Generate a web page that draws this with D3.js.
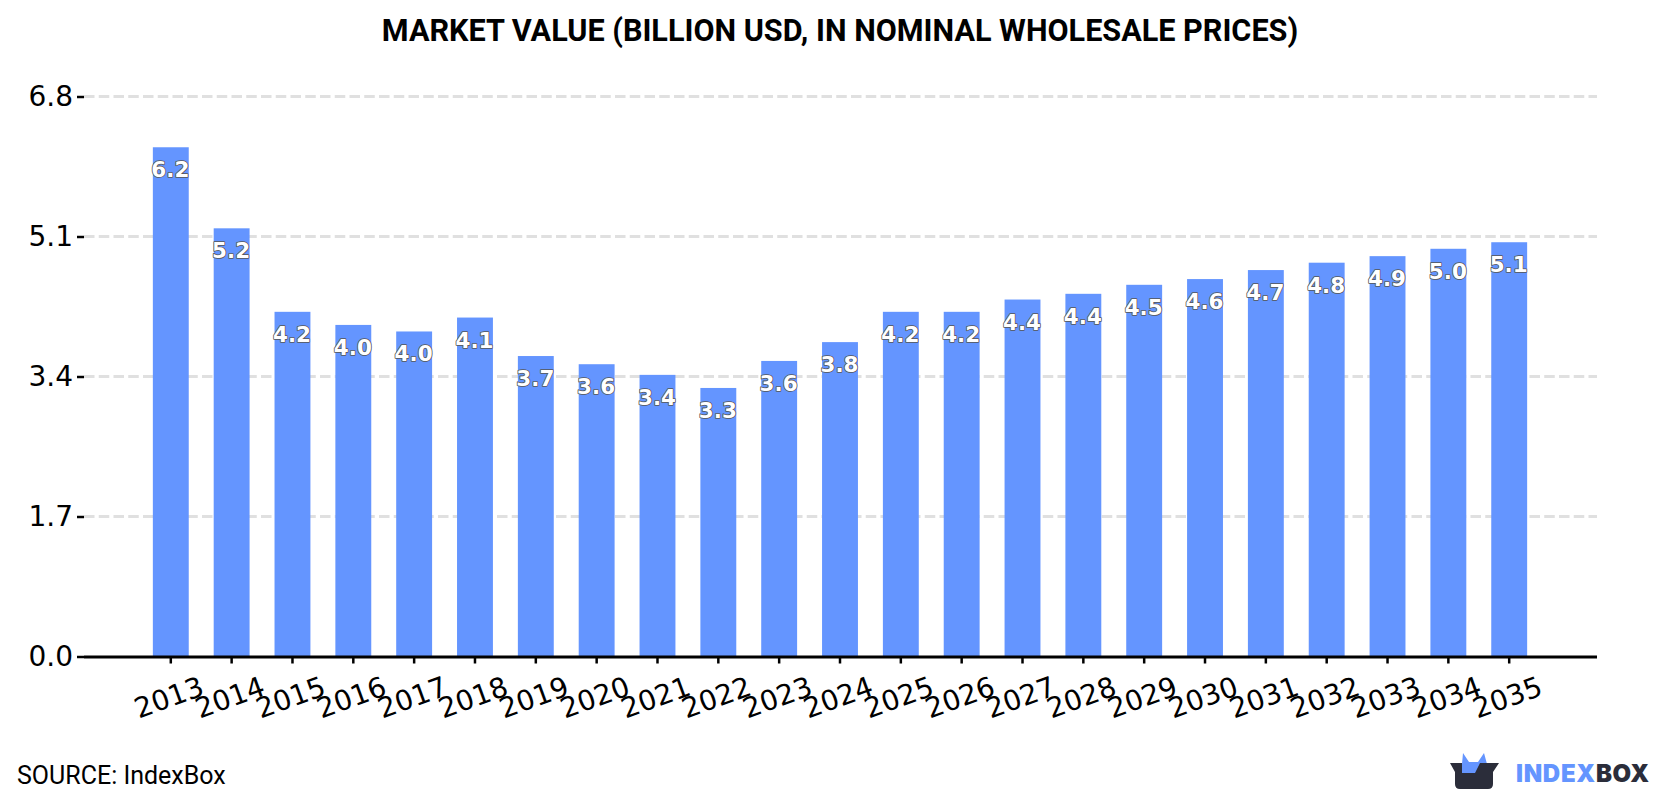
<!DOCTYPE html>
<html>
<head>
<meta charset="utf-8">
<script src="https://cdn.jsdelivr.net/npm/d3@7/dist/d3.min.js"></script>
<style>
  html, body { margin: 0; padding: 0; background: #fff; }
  svg { display: block; }
</style>
</head>
<body>
<svg id="chart" width="1680" height="800"></svg>
<script>
const years = ["2013","2014","2015","2016","2017","2018","2019","2020","2021","2022","2023","2024","2025","2026","2027","2028","2029","2030","2031","2032","2033","2034","2035"];
const marketValue = [6.22,5.23,4.21,4.05,3.97,4.14,3.67,3.57,3.44,3.28,3.61,3.84,4.21,4.21,4.36,4.43,4.54,4.61,4.72,4.81,4.89,4.98,5.06];
const yTicks = [0,1.71,3.42,5.13,6.84];
const titleText = "MARKET VALUE (BILLION USD, IN NOMINAL WHOLESALE PRICES)";
const sourceText = "SOURCE: IndexBox";

const svg = d3.select("#chart");
const fmt = d3.format(".1f");

const x = d3.scaleBand().domain(years).range([83.5, 1596.5]).paddingInner(0.41).paddingOuter(1.14);
const y = d3.scaleLinear().domain([0, 6.84]).range([656.5, 96.5]);

// Title
svg.append("text").attr("x", 840).attr("y", 41).attr("text-anchor", "middle")
  .attr("font-family", "Roboto").attr("font-weight", 700).attr("font-size", 30.6)
  .attr("fill", "#000").text(titleText);

// Dashed gridlines, drawn beneath the bars
svg.append("g").selectAll("line").data(yTicks.slice(1)).join("line")
  .attr("x1", 84).attr("x2", 1597)
  .attr("y1", d => y(d)).attr("y2", d => y(d))
  .attr("stroke", "#e0e0e0").attr("stroke-width", 2.8).attr("stroke-dasharray", "10.5 4.25");

// Bars
svg.append("g").selectAll("rect").data(years).join("rect")
  .attr("x", d => x(d)).attr("width", x.bandwidth())
  .attr("y", (d, i) => y(marketValue[i]))
  .attr("height", (d, i) => y(0) - y(marketValue[i]))
  .attr("fill", "#6495ff");

// Y axis: short ticks and labels, no domain line
const yAxis = d3.axisLeft(y).tickValues(yTicks).tickFormat(fmt).tickSize(7).tickPadding(4);
const yG = svg.append("g").attr("transform", "translate(84,0)").call(yAxis);
yG.select(".domain").remove();
yG.selectAll("line").attr("stroke", "#000").attr("stroke-width", 2.5);
yG.selectAll("text").attr("font-family", "DejaVu Sans").attr("font-size", 28).attr("fill", "#000");

// X axis with rotated year labels
const xAxis = d3.axisBottom(x).tickSize(7).tickSizeOuter(0).tickPadding(8);
const xG = svg.append("g").attr("transform", "translate(0,656.5)").call(xAxis);
xG.select(".domain").attr("stroke", "#000").attr("stroke-width", 3);
xG.selectAll("line").attr("stroke", "#000").attr("stroke-width", 2.5);
xG.selectAll("text")
  .attr("font-family", "DejaVu Sans").attr("font-size", 28).attr("fill", "#000")
  .attr("text-anchor", "middle").attr("dy", 0).attr("y", 0)
  .attr("transform", "translate(1.5,50) rotate(-20)");

// Value labels inside the top of each bar
svg.append("g").selectAll("text").data(years).join("text")
  .attr("x", d => x(d) + x.bandwidth() / 2 - 0.5)
  .attr("y", (d, i) => y(marketValue[i]) + 30)
  .attr("text-anchor", "middle")
  .attr("font-family", "DejaVu Sans").attr("font-weight", 700).attr("font-size", 21.5)
  .attr("fill", "#fff").attr("stroke", "#555").attr("stroke-width", 1.6)
  .attr("paint-order", "stroke").attr("stroke-linejoin", "round")
  .text((d, i) => fmt(marketValue[i]));

// Source line
svg.append("text").attr("x", 17).attr("y", 784)
  .attr("font-family", "Roboto").attr("font-size", 25).attr("fill", "#000").text(sourceText);

// Brand mark
const logo = svg.append("g");
logo.append("path").attr("fill", "#6495ff")
  .attr("d", "M1462 764L1463 753L1469 762L1478 762L1484 753L1487 764L1480 773L1462 773Z");
logo.append("path").attr("fill", "#2b2d3a")
  .attr("d", "M1450 763L1462 763L1462 773L1475 773L1480 763L1499 763L1493 772L1493 784Q1493 789 1488 789L1460 789Q1455 789 1455 784L1455 772Z");
logo.append("text").attr("x", 1516).attr("y", 782)
  .attr("font-family", "Inter").attr("font-weight", 900).attr("font-size", 24).attr("letter-spacing", 0.7)
  .selectAll("tspan").data([["INDEX", "#6495ff"], ["BOX", "#2b2d3a"]]).join("tspan")
  .attr("fill", d => d[1]).text(d => d[0]);
</script>
</body>
</html>
